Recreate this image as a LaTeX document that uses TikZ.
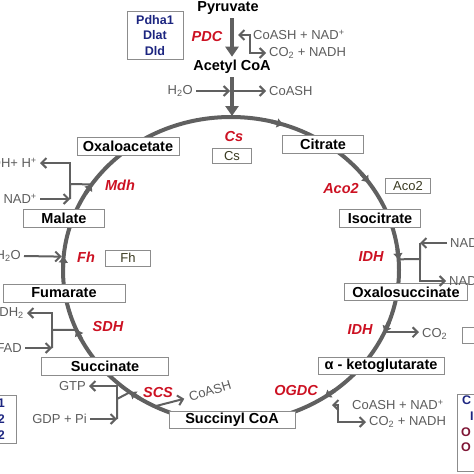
\documentclass[tikz,border=0pt]{standalone}
\usepackage{fontspec}
\setmainfont{Liberation Sans}
\usetikzlibrary{arrows.meta}

\definecolor{cyclegray}{HTML}{606060}
\definecolor{sidegray}{HTML}{5C5C5C}
\definecolor{boxgray}{HTML}{8C8C8C}
\definecolor{enzred}{HTML}{CC1122}
\definecolor{genenavy}{HTML}{1C2580}
\definecolor{genemaroon}{HTML}{7E1535}
\definecolor{geneolive}{HTML}{3B3B22}

\begin{document}
\begin{tikzpicture}[
    x = 1pt, y = -1pt,
    metab/.style = {draw = boxgray, fill = white, line width = 0.8pt, inner sep = 0pt,
        font = \bfseries\fontsize{14.5}{17}\selectfont},
    title/.style = {font = \bfseries\fontsize{14.5}{17}\selectfont},
    enz/.style = {text = enzred, inner sep = 0pt, font = \bfseries\itshape\fontsize{14.5}{17}\selectfont},
    genebox/.style = {draw = boxgray, fill = white, line width = 0.8pt, inner sep = 0pt,
        text = geneolive, font = \fontsize{13}{15}\selectfont},
    genelist/.style = {text = genenavy, inner sep = 0pt, font = \bfseries\fontsize{12.5}{15.5}\selectfont},
    listbox/.style = {draw = boxgray, line width = 0.8pt, inner sep = 0pt},
    side/.style = {text = sidegray, inner xsep = 3pt, inner ysep = 0pt, font = \fontsize{13}{15}\selectfont},
    ring/.style = {draw = cyclegray, line width = 4pt},
    ringtip/.style = {draw = cyclegray, line width = 4pt, -{Triangle[length = 6pt, width = 9pt]}},
    mainarrow/.style = {draw = cyclegray, line width = 4pt, -{Triangle[length = 10pt, width = 13pt]}},
    sidearrow/.style = {draw = cyclegray, line width = 2pt, -{Straight Barb[length = 5pt, width = 10pt]}},
    twoway/.style = {draw = cyclegray, line width = 2pt,
        {Straight Barb[length = 5pt, width = 10pt]}-{Straight Barb[length = 5pt, width = 10pt]}},
    sideline/.style = {draw = cyclegray, line width = 2pt}]

\useasboundingbox (0,0) rectangle (474,474);
\clip (0,0) rectangle (474,474);

% the cycle
\draw[ring] (231,270) ellipse [x radius = 168pt, y radius = 153pt];
\foreach \a in {-72,-35,-4,24,56,127,157,185,214}
    \draw[ringtip] ({231+168*cos(\a-4)},{270+153*sin(\a-4)}) -- ({231+168*cos(\a)},{270+153*sin(\a)});

\coordinate (cstop) at (232,116);
\coordinate (idhpt) at ({231+168*cos(-4)},{270+153*sin(-4)});
\coordinate (idh2pt) at ({231+168*cos(24)},{270+153*sin(24)});
\coordinate (scspt) at ({231+168*cos(127)},{270+153*sin(127)});
\coordinate (scsleave) at ({231+168*cos(117)},{270+153*sin(117)});
\coordinate (sdhpt) at ({231+168*cos(157)},{270+153*sin(157)});
\coordinate (fhpt) at ({231+168*cos(185)},{270+153*sin(185)});
\coordinate (mdhpt) at ({231+168*cos(214)},{270+153*sin(214)});

% pyruvate to acetyl CoA
\node[title] (pyr) at (228,8) {Pyruvate};
\node[title] (acoa) at (232,67) {Acetyl CoA};
\node[enz] (pdc) at (207,37) {PDC};
\node[listbox, minimum width = 56pt, minimum height = 48pt] (pdcbox) at (155,35) {};
\node[genelist] (pdha) at (155,20) {Pdha1};
\node[genelist] (dlat) at (155,35) {Dlat};
\node[genelist] (dld) at (155,51) {Dld};
\draw[mainarrow] (pyr.south -| acoa.north) -- (acoa.north);
\node[side, anchor = west] (pdcin) at (250,35) {CoASH + NAD\textsuperscript{+}};
\node[side, anchor = west] (pdcout) at (266,53) {CO\textsubscript{2} + NADH};
\coordinate (pdctip) at (238,35);
\draw[twoway] (pdctip) -- (pdcin.west) |- (pdcout.west);

\draw[mainarrow] (acoa.south) -- (cstop);
\node[side, anchor = east] (csin) at (196,91) {H\textsubscript{2}O};
\node[side, anchor = west] (csout) at (266,91) {CoASH};
\draw[sidearrow, shorten >= 2pt] (csin.east) -- (csin.east -| acoa);
\draw[sidearrow] (csin.east -| acoa) -- (csout.west);

% metabolites
\node[metab, minimum width = 102pt, minimum height = 18pt] (oxa) at (128,146) {Oxaloacetate};
\node[metab, minimum width = 81pt, minimum height = 18pt] (cit) at (323,144) {Citrate};
\node[metab, minimum width = 81pt, minimum height = 18pt] (iso) at (380,218) {Isocitrate};
\node[metab, minimum width = 123pt, minimum height = 17pt] (oxs) at (406,292) {Oxalosuccinate};
\node[metab, minimum width = 126pt, minimum height = 17pt] (akg) at (381,366) {α - ketoglutarate};
\node[metab, minimum width = 126pt, minimum height = 17pt] (scoa) at (232,420) {Succinyl CoA};
\node[metab, minimum width = 127pt, minimum height = 18pt] (suc) at (105,366) {Succinate};
\node[metab, minimum width = 122pt, minimum height = 18pt] (fum) at (64,293) {Fumarate};
\node[metab, minimum width = 81pt, minimum height = 18pt] (mal) at (64,218) {Malate};

% enzymes
\node[enz] (cs) at (234,137) {Cs};
\node[enz] (aco) at (341,189) {Aco2};
\node[enz] (idh) at (371,257) {IDH};
\node[enz] (idh2) at (360,330) {IDH};
\node[enz] (ogdc) at (296,391) {OGDC};
\node[enz] (scs) at (158,393) {SCS};
\node[enz] (sdh) at (108,327) {SDH};
\node[enz] (fh) at (86,257) {Fh};
\node[enz] (mdh) at (120,185) {Mdh};

\node[genebox, minimum width = 39pt, minimum height = 15pt] (csgene) at (232,156) {Cs};
\node[genebox, minimum width = 45pt, minimum height = 15pt] (acogene) at (408,186) {Aco2};
\node[genebox, minimum width = 45pt, minimum height = 16pt] (fhgene) at (128,258) {Fh};

% IDH
\coordinate (idhfork) at (420,259);
\node[side, anchor = west] (idhin) at (447,243) {NAD\textsuperscript{+}};
\node[side, anchor = west] (idhout) at (446,281) {NADH};
\draw[sideline] (idhpt) -- (idhfork) -- (idhin.west -| idhfork);
\draw[sidearrow] (idhin.west) -- (idhin.west -| idhfork);
\draw[sidearrow] (idhfork) |- (idhout.west);

\node[side, anchor = west] (idh2out) at (419,334) {CO\textsubscript{2}};
\draw[sidearrow] (idh2pt) -- (idh2pt -| idh2out.west);
\node[listbox, minimum width = 40pt, minimum height = 16pt] (idhbox) at (482,335) {};

% OGDC
\coordinate (ogdctip) at (332,405);
\coordinate (ogdcfork) at (338,405);
\node[side, anchor = west] (ogdcin) at (349,405) {CoASH + NAD\textsuperscript{+}};
\node[side, anchor = west] (ogdcout) at (366,422) {CO\textsubscript{2} + NADH};
\draw[twoway] (ogdctip) -- (ogdcfork) |- (ogdcout.west);
\node[listbox, minimum width = 60pt, minimum height = 77pt] (ogdcbox) at (487,433) {};
\node[genelist, anchor = west] (ogdca) at (462,400) {C};
\node[genelist, anchor = west] (ogdcb) at (470,416) {I};
\node[genelist, anchor = west, text = genemaroon] (ogdcc) at (461,432) {O};
\node[genelist, anchor = west, text = genemaroon] (ogdcd) at (461,447) {O};

% SCS
\coordinate (scsfork) at (117,399);
\node[side, anchor = east] (scsout) at (89,386) {GTP};
\node[side, anchor = east] (scsin) at (90,419) {GDP + Pi};
\node[side, rotate = 17] (scscoash) at (210,391) {CoASH};
\draw[sideline] (scspt) -- (scsfork) -- (scsin.east -| scsfork);
\draw[sidearrow] (scsin.east) -- (scsin.east -| scsfork);
\draw[sidearrow] (scsfork) |- (scsout.east);
\draw[sidearrow, shorten >= 2pt] (scsleave) -- (scscoash.west);
\node[listbox, minimum width = 60pt, minimum height = 48pt] (scsbox) at (-14,419) {};
\node[genelist, anchor = east] (scsa) at (5,403) {1};
\node[genelist, anchor = east] (scsb) at (5,419) {2};
\node[genelist, anchor = east] (scsc) at (5,435) {2};

% SDH
\coordinate (sdhfork) at (52,330);
\node[side, anchor = east] (sdhout) at (27,313) {FADH\textsubscript{2}};
\node[side, anchor = east] (sdhin) at (25,348) {FAD};
\draw[sideline] (sdhpt) -- (sdhfork) -- (sdhin.east -| sdhfork);
\draw[sidearrow] (sdhin.east) -- (sdhin.east -| sdhfork);
\draw[sidearrow] (sdhfork) |- (sdhout.east);

% Fh
\node[side, anchor = east] (fhin) at (24,256) {H\textsubscript{2}O};
\draw[sidearrow, shorten >= 2pt] (fhin.east) -- (fhpt);

% Mdh
\coordinate (mdhfork) at (70,184);
\node[side, anchor = east] (mdhout) at (40,163) {NADH+ H\textsuperscript{+}};
\node[side, anchor = east] (mdhin) at (40,199) {NAD\textsuperscript{+}};
\draw[sideline] (mdhpt) -- (mdhfork) -- (mdhin.east -| mdhfork);
\draw[sidearrow] (mdhin.east) -- (mdhin.east -| mdhfork);
\draw[sidearrow] (mdhfork) |- (mdhout.east);
\end{tikzpicture}
\end{document}
